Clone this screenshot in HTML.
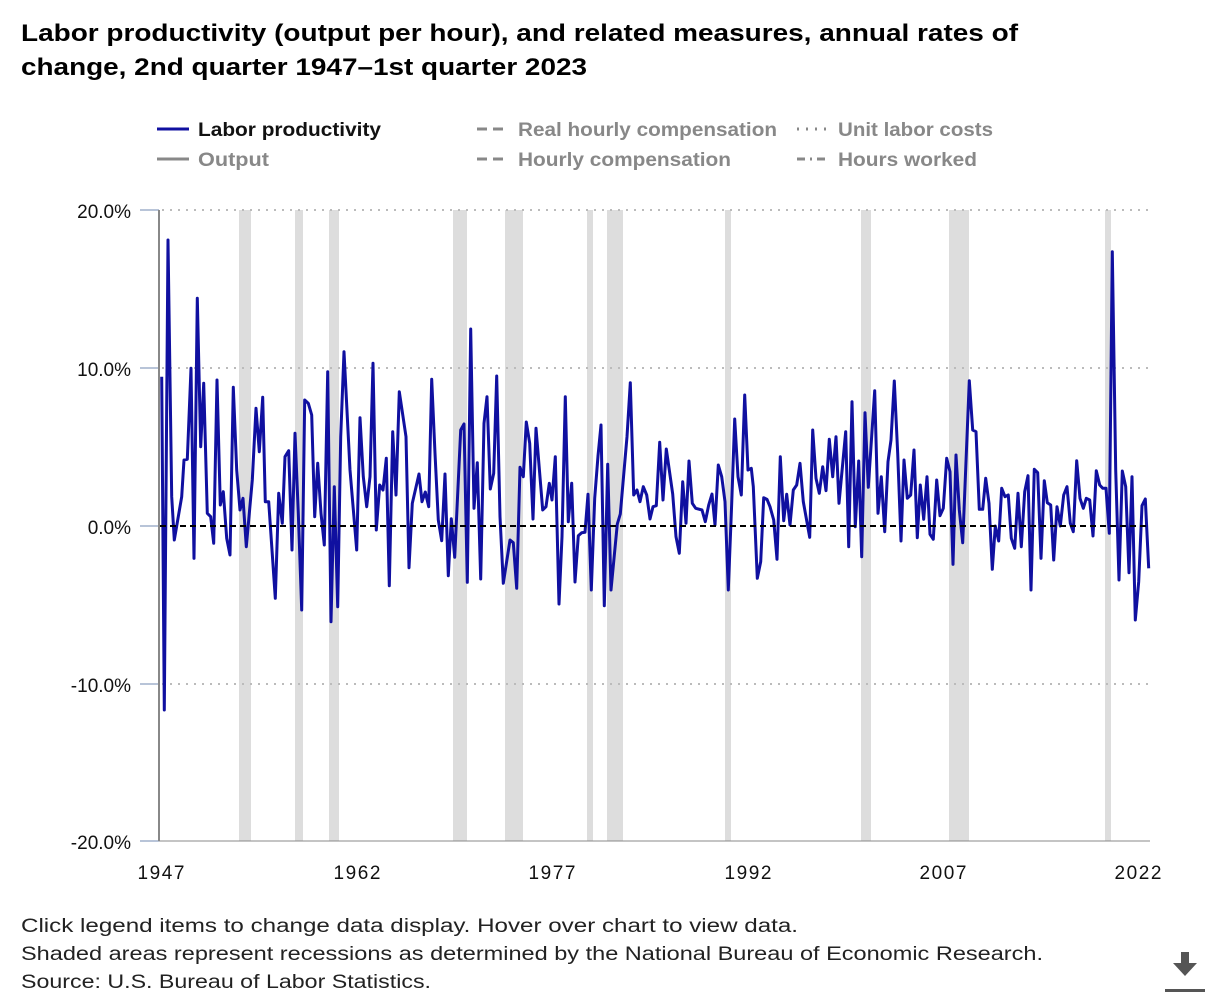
<!DOCTYPE html>
<html><head><meta charset="utf-8"><style>
body{margin:0;background:#fff;width:1230px;height:1000px;overflow:hidden;font-family:"Liberation Sans",sans-serif}
</style></head><body>
<svg width="1230" height="1000" xmlns="http://www.w3.org/2000/svg" font-family="Liberation Sans, sans-serif">
<text x="21" y="41" font-size="24" font-weight="bold" fill="#000" textLength="997" lengthAdjust="spacingAndGlyphs">Labor productivity (output per hour), and related measures, annual rates of</text>
<text x="21" y="75" font-size="24" font-weight="bold" fill="#000" textLength="566" lengthAdjust="spacingAndGlyphs">change, 2nd quarter 1947–1st quarter 2023</text>
<g font-size="19" font-weight="bold">
<line x1="157" y1="129" x2="189" y2="129" stroke="#1010a0" stroke-width="3"/><text x="198" y="136" fill="#111" textLength="183" lengthAdjust="spacingAndGlyphs">Labor productivity</text>
<line x1="477" y1="129" x2="509" y2="129" stroke="#888" stroke-width="3" stroke-dasharray="10,6"/><text x="518" y="136" fill="#888" textLength="259" lengthAdjust="spacingAndGlyphs">Real hourly compensation</text>
<line x1="797" y1="129" x2="829" y2="129" stroke="#888" stroke-width="3" stroke-dasharray="2,7"/><text x="838" y="136" fill="#888" textLength="155" lengthAdjust="spacingAndGlyphs">Unit labor costs</text>
<line x1="157" y1="159" x2="189" y2="159" stroke="#888" stroke-width="3"/><text x="198" y="166" fill="#888" textLength="71" lengthAdjust="spacingAndGlyphs">Output</text>
<line x1="477" y1="159" x2="509" y2="159" stroke="#888" stroke-width="3" stroke-dasharray="10,6"/><text x="518" y="166" fill="#888" textLength="213" lengthAdjust="spacingAndGlyphs">Hourly compensation</text>
<line x1="797" y1="159" x2="829" y2="159" stroke="#888" stroke-width="3" stroke-dasharray="8,5,2,5"/><text x="838" y="166" fill="#888" textLength="139" lengthAdjust="spacingAndGlyphs">Hours worked</text>
</g>
<g fill="#ddd">
<rect x="239" y="210" width="12" height="631"/><rect x="295" y="210" width="8" height="631"/><rect x="329" y="210" width="10" height="631"/>
<rect x="453" y="210" width="14" height="631"/><rect x="505" y="210" width="18" height="631"/><rect x="587" y="210" width="6" height="631"/>
<rect x="607" y="210" width="16" height="631"/><rect x="725" y="210" width="6" height="631"/><rect x="861" y="210" width="10" height="631"/>
<rect x="949" y="210" width="20" height="631"/><rect x="1105" y="210" width="6" height="631"/>
</g>
<g stroke="#bbb" stroke-width="2" stroke-dasharray="2,6">
<line x1="162" y1="210" x2="1150" y2="210"/><line x1="162" y1="368" x2="1150" y2="368"/><line x1="162" y1="684" x2="1150" y2="684"/>
</g>
<g stroke="#b8c4d8" stroke-width="2"><line x1="140" y1="210" x2="159" y2="210"/><line x1="140" y1="368" x2="159" y2="368"/><line x1="140" y1="526" x2="159" y2="526"/><line x1="140" y1="684" x2="159" y2="684"/><line x1="140" y1="841" x2="159" y2="841"/></g>
<line x1="159" y1="210" x2="159" y2="841" stroke="#888" stroke-width="2"/>
<line x1="159" y1="841" x2="1150" y2="841" stroke="#888" stroke-width="1"/>
<g font-size="19" fill="#111" text-anchor="end">
<text x="131" y="218">20.0%</text><text x="131" y="376">10.0%</text><text x="131" y="534">0.0%</text><text x="131" y="692">-10.0%</text><text x="131" y="849">-20.0%</text>
</g>
<g font-size="19" fill="#111" text-anchor="middle">
<text x="161" y="879" textLength="47">1947</text><text x="357" y="879" textLength="47">1962</text><text x="552" y="879" textLength="47">1977</text><text x="748" y="879" textLength="47">1992</text><text x="943" y="879" textLength="47">2007</text><text x="1138" y="879" textLength="47">2022</text>
</g>
<polyline id="pl" fill="none" stroke="#1010a0" stroke-width="3" stroke-linejoin="round" points=""/>
<line x1="160" y1="526" x2="1150" y2="526" stroke="#000" stroke-width="2" stroke-dasharray="6,4"/>
<g font-size="19" fill="#222">
<text x="21" y="932" textLength="777" lengthAdjust="spacingAndGlyphs">Click legend items to change data display. Hover over chart to view data.</text>
<text x="21" y="960" textLength="1022" lengthAdjust="spacingAndGlyphs">Shaded areas represent recessions as determined by the National Bureau of Economic Research.</text>
<text x="21" y="988" textLength="410" lengthAdjust="spacingAndGlyphs">Source: U.S. Bureau of Labor Statistics.</text>
</g>
<g fill="#555"><rect x="1181" y="952" width="8" height="12"/><polygon points="1173,963 1197,963 1185,976"/><rect x="1165" y="989" width="40" height="3"/></g>
</svg>
<script>
var segs=[
[150,230,[[35,440],[43,1440],[54,30],[65,800],[73,930],[95,800],[102,690],[112,688],[123,415],[132,985],[142,205],[152,650],[161,460],[172,850],[182,860],[191,940],[201,450],[211,825],[220,785],[230,925],[240,975],[250,472],[260,720],[270,840],[279,805],[289,950],[307,750],[318,535],[328,665],[338,502],[346,815],[356,815],[376,1105],[386,790],[397,880],[405,680],[416,662],[426,960],[435,610],[445,850],[455,1140],[464,510],[475,520],[485,555],[494,860],[503,700],[513,850],[523,945],[533,425],[543,1175],[553,770],[563,1130],[572,620],[582,365],[600,720],[611,567]],0,352],
[350,320,[[20,690],[30,293],[40,470],[50,560],[60,470],[69,130],[79,630],[89,495],[99,510],[109,415],[118,797],[128,335],[138,525],[148,215],[168,350],[177,743],[187,550],[207,462],[216,545],[226,516],[236,560],[245,178],[255,400],[265,600],[275,662],[285,462],[295,767],[304,596],[314,712],[332,330],[342,312],[352,787],[362,27],[372,565],[382,428],[392,777],[402,310],[411,230],[421,507],[431,460],[440,168],[450,590],[460,790],[480,660],[490,668],[500,805],[510,442],[520,470],[529,306],[539,370],[549,597],[558,325],[578,570],[588,560],[598,490],[607,530],[617,410],[627,853]],352,552],
[550,370,[[0,340],[6,390],[16,260],[27,702],[36,500],[46,80],[55,455],[65,340],[75,636],[85,497],[95,488],[105,487],[114,373],[124,660],[134,385],[144,258],[153,165],[163,707],[173,283],[183,660],[202,462],[211,432],[231,200],[241,38],[251,375],[261,360],[270,395],[280,350],[290,375],[300,447],[309,410],[319,407],[329,217],[339,390],[349,237],[368,372],[378,500],[388,550],[398,335],[408,460],[417,273],[427,400],[437,415],[456,420],[466,455],[476,405],[486,372],[495,465],[505,285],[515,320],[525,395],[535,660],[545,400],[554,147],[564,320],[574,375],[584,75],[594,300],[604,295],[614,340],[624,627]],552,752],
[750,370,[[0,290],[10,350],[22,625],[32,575],[41,383],[51,388],[60,410],[71,450],[81,568],[91,260],[101,452],[110,373],[120,465],[130,360],[140,345],[150,280],[160,395],[179,502],[188,180],[198,325],[208,370],[218,290],[228,362],[238,208],[248,320],[258,200],[267,400],[287,185],[296,530],[306,95],[316,470],[326,273],[335,560],[345,128],[355,352],[374,62],[384,430],[394,320],[404,485],[414,275],[423,210],[433,33],[443,250],[453,513],[462,270],[472,385],[482,375],[492,240],[502,503],[511,345],[521,448],[531,320],[540,493],[550,508],[560,330],[570,437],[580,415],[590,265],[600,305],[609,585],[619,283],[630,430]],752,952],
[950,240,[[0,690],[9,973],[18,645],[28,810],[38,908],[58,422],[68,570],[78,575],[88,808],[98,808],[107,715],[117,790],[127,988],[136,858],[146,903],[155,745],[165,770],[175,765],[184,895],[194,925],[204,760],[214,920],[224,755],[234,707],[243,1050],[253,688],[263,698],[273,955],[283,722],[292,788],[302,795],[311,960],[321,800],[331,858],[341,765],[351,740],[361,850],[370,875],[380,662],[390,775],[400,805],[409,775],[419,780],[429,888],[439,692],[449,735],[458,745],[468,745],[478,880],[487,35],[497,690],[507,1020],[517,693],[527,740],[537,998],[546,710],[556,1140],[566,1025],[576,797],[586,777],[596,985]],952,2000]];
var pts=[];
segs.forEach(function(s){s[2].forEach(function(p){var x=s[0]+p[0]/3,y=s[1]+p[1]/3;if(x>=s[3]&&x<s[4])pts.push([x,y]);});});
pts.sort(function(a,b){return a[0]-b[0];});
document.getElementById('pl').setAttribute('points',pts.map(function(p){return p[0].toFixed(1)+','+p[1].toFixed(1)}).join(' '));
</script>
</body></html>
